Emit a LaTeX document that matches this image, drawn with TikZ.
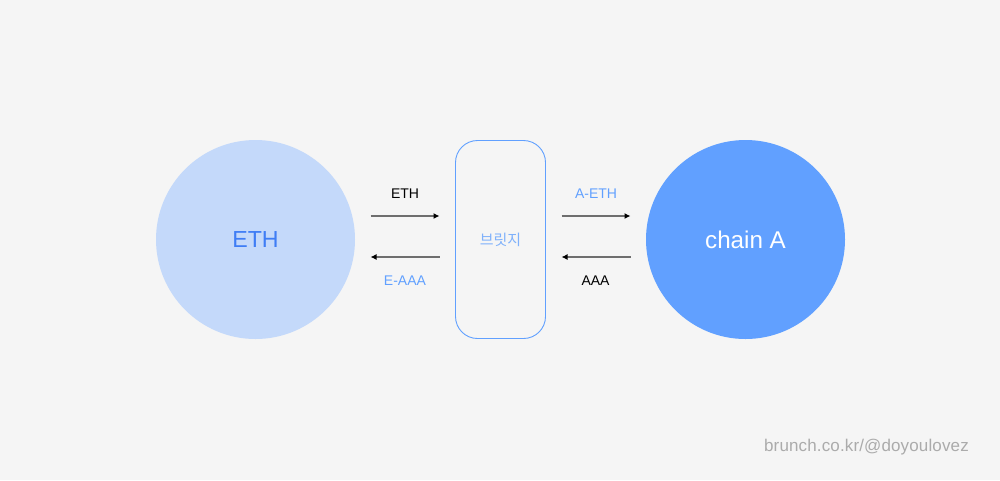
\documentclass[tikz,border=0pt]{standalone}
\usepackage{fontspec}
\setmainfont{Liberation Sans}
\newfontfamily\krfont{Noto Sans CJK KR}
\newfontfamily\markfont[LetterSpace=0.8]{Liberation Sans}
\usetikzlibrary{arrows.meta}
\definecolor{bgc}{HTML}{F5F5F5}
\definecolor{lightb}{HTML}{C4D9FA}
\definecolor{midb}{HTML}{61A0FF}
\definecolor{softb}{HTML}{7FB1FB}
\definecolor{deepb}{HTML}{3F7DF5}
\definecolor{greyl}{HTML}{6E6E6E}
\definecolor{markc}{HTML}{ABABAB}
\tikzset{
  bigcircle/.style={circle,draw=none,minimum size=199pt,inner sep=0pt},
  bridgebox/.style={rectangle,rounded corners=22pt,draw=midb,line width=0.9pt,minimum width=90pt,minimum height=198pt,inner sep=0pt},
  flow/.style={draw=greyl,line width=1.2pt,-{Latex[length=6pt,width=6pt,color=black]}},
  lab/.style={font=\fontsize{14}{16}\selectfont,inner sep=0pt,anchor=center},
}
\begin{document}
\begin{tikzpicture}[x=1pt,y=-1pt]
\path[fill=bgc] (0,0) rectangle (1000,480);
\useasboundingbox (0,0) rectangle (1000,480);
\node[bigcircle,fill=lightb] (eth) at (255.5,239.5) {};
\node[bigcircle,fill=midb] (chain) at (745.5,239.5) {};
\node[bridgebox] (bridge) at (500.5,239.5) {};
\node[inner sep=0pt,text=deepb,font=\fontsize{23.2}{28}\selectfont] (ethl) at (255.5,239.5) {ETH};
\node[inner sep=0pt,text=white,font=\fontsize{24.2}{28}\selectfont] (chainl) at (745.5,239.5) {chain A};
\node[inner sep=0pt,text=softb,font=\krfont\fontsize{15}{18}\selectfont] (bridgel) at (500.5,239.5) {브릿지};
\coordinate (a1s) at (370.5,216); \coordinate (a1e) at (439.5,216);
\coordinate (a2s) at (439.5,257); \coordinate (a2e) at (370.5,257);
\coordinate (a3s) at (561.5,216); \coordinate (a3e) at (630.5,216);
\coordinate (a4s) at (630.5,257); \coordinate (a4e) at (561.5,257);
\draw[flow] (a1s) -- (a1e);
\draw[flow] (a2s) -- (a2e);
\draw[flow] (a3s) -- (a3e);
\draw[flow] (a4s) -- (a4e);
\node[lab,text=black] (l1) at (405,194) {ETH};
\node[lab,text=midb] (l2) at (405,281) {E-AAA};
\node[lab,text=midb] (l3) at (596,194) {A-ETH};
\node[lab,text=black] (l4) at (595.5,281) {AAA};
\node[inner sep=0pt,anchor=east,text=markc,font=\markfont\fontsize{17}{20}\selectfont] (mark) at (969,447) {brunch.co.kr/@doyoulovez};
\end{tikzpicture}
\end{document}
